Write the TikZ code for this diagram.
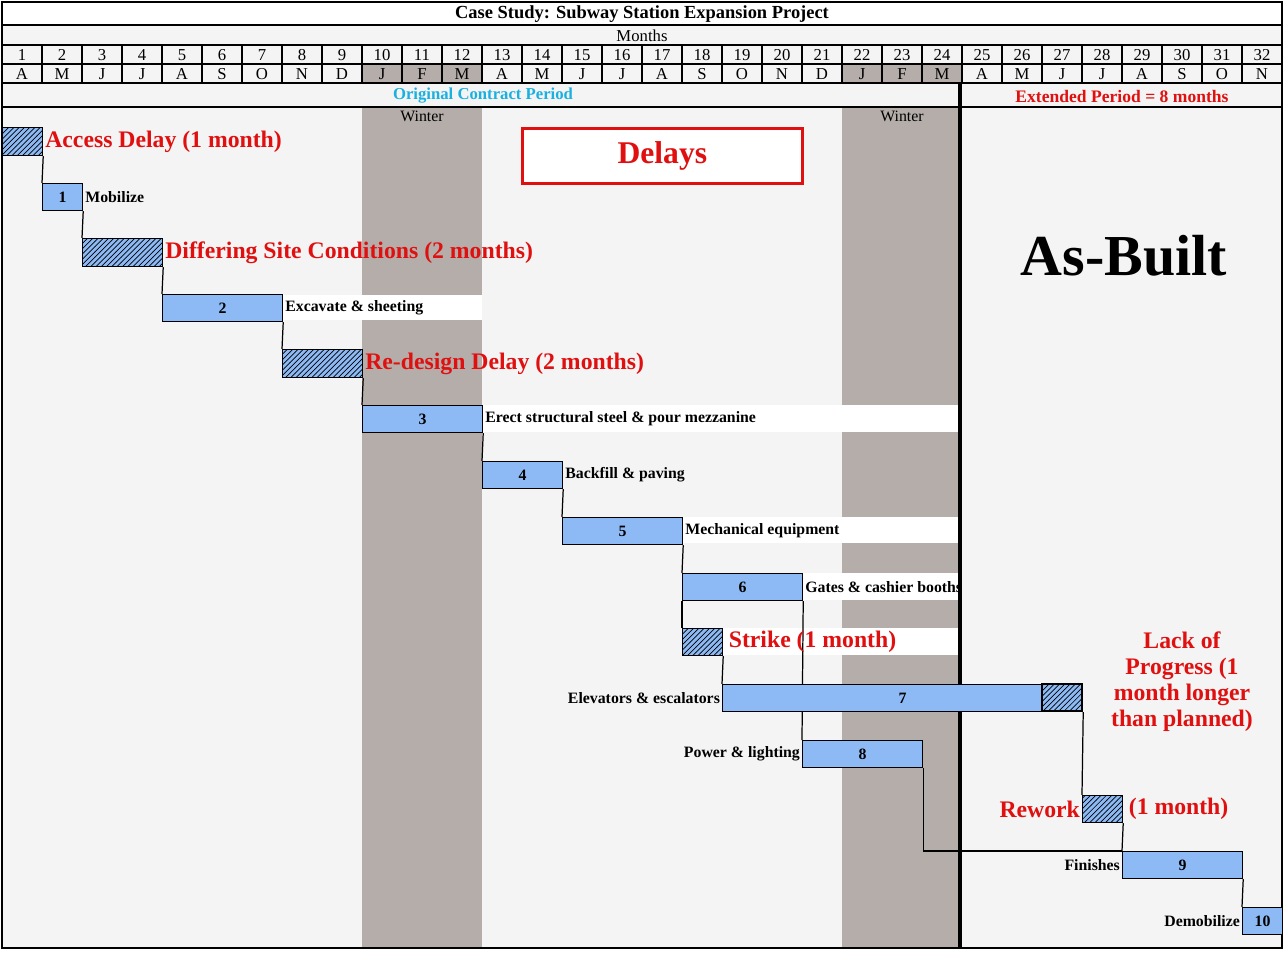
\documentclass[tikz,border=0pt]{standalone}
\usepackage{fontspec}
\setmainfont{Liberation Serif}
\usetikzlibrary{patterns}
\definecolor{barblue}{HTML}{8DBAF5}
\definecolor{wgray}{HTML}{B4ADA9}
\definecolor{bg}{HTML}{F4F4F4}
\definecolor{dred}{HTML}{E01010}
\definecolor{cyanc}{HTML}{1AB0E0}
\tikzset{
  barbox/.style={draw=black,line width=0.7pt,fill=barblue,inner sep=0pt,font=\bfseries\fontsize{9}{10}\selectfont},
  hatchbox/.style={draw=black,line width=0.7pt,fill=barblue,postaction={pattern=north east lines},inner sep=0pt},
  conn/.style={line width=0.7pt},
  lbl/.style={font=\bfseries\fontsize{9}{10}\selectfont,inner sep=1pt},
  dlbl/.style={font=\bfseries\fontsize{13.5}{15}\selectfont,text=dred,inner sep=1pt},
  hdr/.style={font=\fontsize{9.5}{10}\selectfont,inner sep=0pt},
}
\newcommand\gbar[7]{\node[#6,anchor=north west,minimum width={(#3-#1)*0.02cm},minimum height={(#4-#2)*0.02cm}] (#5) at (#1,#2) {#7};}
\begin{document}
\begin{tikzpicture}[x=0.02cm,y=-0.02cm]
\useasboundingbox (0,0) rectangle (1286,953);
\fill[white] (0,0) rectangle (1286,953);
\fill[bg] (2,107) rectangle (1282,948);
\fill[bg] (2,25) rectangle (1282,107);
% winter shading
\fill[wgray] (362,107) rectangle (482,948);
\fill[wgray] (842,107) rectangle (962,948);
\fill[wgray] (362,64) rectangle (482,83);
\fill[wgray] (842,64) rectangle (962,83);
% white label bands
\fill[white] (282,295) rectangle (482,320);
\fill[white] (482,405) rectangle (960,432);
\fill[white] (682,517) rectangle (960,543);
\fill[white] (802,573) rectangle (960,600);
\fill[white] (722,628) rectangle (960,655);
% header grid
\draw[line width=0.7pt] (2,2) rectangle (1282,948);
\draw[line width=1.2pt] (2,25) -- (1282,25);
\draw[line width=0.7pt] (2,45) -- (1282,45);
\draw[line width=0.7pt] (2,64) -- (1282,64);
\draw[line width=0.7pt] (2,83) -- (1282,83);
\draw[line width=1.2pt] (2,107) -- (1282,107);
\foreach \k in {1,...,31} \draw[line width=0.6pt] ({2+40*\k},45) -- ({2+40*\k},83);
\draw[line width=2pt] (960,83) -- (960,948);
\node[hdr,font=\bfseries\fontsize{10.5}{12}\selectfont] (title) at (642,14) {Case Study: Subway Station Expansion Project};
\node[hdr] (months) at (642,35.5) {Months};
\foreach \k [count=\i] in {1,...,32} \node[hdr] (n\i) at ({22+40*(\i-1)},55) {\k};
\foreach \m [count=\i] in {A,M,J,J,A,S,O,N,D,J,F,M,A,M,J,J,A,S,O,N,D,J,F,M,A,M,J,J,A,S,O,N} \node[hdr] (m\i) at ({22+40*(\i-1)},74) {\m};
\node[hdr,font=\bfseries\fontsize{9.5}{10}\selectfont,text=cyanc] (ocp) at (483,96) {Original Contract Period};
\node[hdr,font=\bfseries\fontsize{10}{11}\selectfont,text=dred] (ext) at (1122,96) {Extended Period = 8 months};
\node[hdr,font=\fontsize{9}{10}\selectfont] (w1) at (422,116) {Winter};
\node[hdr,font=\fontsize{9}{10}\selectfont] (w2) at (902,116) {Winter};
% delays box and As-Built
\node[draw=dred,line width=1.5pt,anchor=north west,minimum width={280*0.02cm},minimum height={55*0.02cm},fill=white,text=dred,font=\bfseries\fontsize{18}{20}\selectfont] (delays) at (521,127) {Delays};
\node[font=\bfseries\fontsize{33}{36}\selectfont] (asbuilt) at (1124,256) {As-Built};
% bars
\gbar{2}{127}{42}{155}{ad}{hatchbox}{}
\gbar{42}{183}{82}{210}{b1}{barbox}{1}
\gbar{82}{238}{162}{266}{dsc}{hatchbox}{}
\gbar{162}{294}{282}{321}{b2}{barbox}{2}
\gbar{282}{349}{362}{377}{rd}{hatchbox}{}
\gbar{362}{405}{482}{432}{b3}{barbox}{3}
\gbar{482}{461}{562}{488}{b4}{barbox}{4}
\gbar{562}{517}{682}{544}{b5}{barbox}{5}
\gbar{682}{573}{802}{600}{b6}{barbox}{6}
\gbar{682}{628}{722}{655}{st}{hatchbox}{}
\gbar{722}{684}{1082}{711}{b7}{barbox}{7}
\draw[line width=0.7pt,pattern=north east lines] (1042,684) rectangle (1082,711);
\gbar{802}{740}{922}{767}{b8}{barbox}{8}
\gbar{1082}{795}{1122}{822}{rw}{hatchbox}{}
\gbar{1122}{851}{1242}{878}{b9}{barbox}{9}
\gbar{1242}{907}{1282}{934}{b10}{barbox}{10}
% connectors
\draw[conn] (ad.south east) -- (b1.north west);
\draw[conn] (b1.south east) -- (dsc.north west);
\draw[conn] (dsc.south east) -- (b2.north west);
\draw[conn] (b2.south east) -- (rd.north west);
\draw[conn] (rd.south east) -- (b3.north west);
\draw[conn] (b3.south east) -- (b4.north west);
\draw[conn] (b4.south east) -- (b5.north west);
\draw[conn] (b5.south east) -- (b6.north west);
\draw[conn] (b6.south west) -- (st.north west);
\draw[conn] (st.south east) -- (b7.north west);
\draw[conn] (b6.south east) -- (b8.north west);
\draw[conn] (b7.south east) -- (rw.north west);
\draw[conn] (rw.south east) -- (b9.north west);
\draw[conn] (b8.south east) |- (b9.north west);
\draw[conn] (b9.south east) -- (b10.north west);
\node[barbox,anchor=north west,minimum width={360*0.02cm},minimum height={27*0.02cm}] (b7r) at (722,684) {7};
\draw[line width=0.7pt,pattern=north east lines] (1042,684) rectangle (1082,711);
% labels
\node[dlbl,anchor=west] (lad) at (ad.east) {Access Delay (1 month)};
\node[lbl,anchor=west] (l1) at (b1.east) {Mobilize};
\node[dlbl,anchor=west] (ldsc) at (dsc.east) {Differing Site Conditions (2 months)};
\node[lbl,anchor=west] (l2) at (b2.east) {Excavate \& sheeting};
\node[dlbl,anchor=west] (lrd) at (rd.east) {Re-design Delay (2 months)};
\node[lbl,anchor=west] (l3) at (b3.east) {Erect structural steel \& pour mezzanine};
\node[lbl,anchor=west] (l4) at (b4.east) {Backfill \& paving};
\node[lbl,anchor=west] (l5) at (b5.east) {Mechanical equipment};
\node[lbl,anchor=west] (l6) at (b6.east) {Gates \& cashier booths};
\node[dlbl,anchor=west] (lst) at ([xshift=2pt]st.east) {Strike (1 month)};
\node[lbl,anchor=east] (l7) at (b7.west) {Elevators \& escalators};
\node[dlbl,align=center,font=\bfseries\fontsize{13.5}{14.8}\selectfont] (llp) at (1182,682) {Lack of\\Progress (1\\month longer\\than planned)};
\node[lbl,anchor=east] (l8) at (b8.west) {Power \& lighting};
\node[dlbl,anchor=east] (lrw) at (rw.west) {Rework};
\node[dlbl,anchor=west] (lrw2) at ([xshift=2pt]rw.east) {(1 month)};
\node[lbl,anchor=east] (l9) at (b9.west) {Finishes};
\node[lbl,anchor=east] (l10) at (b10.west) {Demobilize};
\end{tikzpicture}
\end{document}
